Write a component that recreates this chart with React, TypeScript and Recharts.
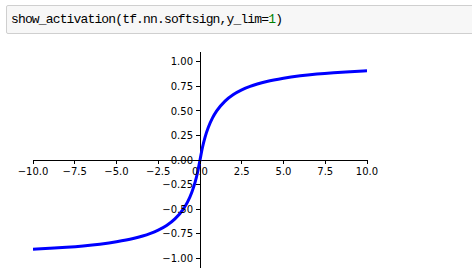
import { LineChart, Line, XAxis, YAxis, ReferenceLine } from 'recharts'

// softsign curve, values
const X_VALUES = [-10, -9, -8, -7, -6, -5, -4, -3, -2.5, -2, -1.5, -1, -0.75, -0.5, -0.3, -0.15, 0, 0.15, 0.3, 0.5, 0.75, 1, 1.5, 2, 2.5, 3, 4, 5, 6, 7, 8, 9, 10]
const Y_VALUES = [-0.909, -0.9, -0.889, -0.875, -0.857, -0.833, -0.8, -0.75, -0.714, -0.667, -0.6, -0.5, -0.429, -0.333, -0.231, -0.13, 0, 0.13, 0.231, 0.333, 0.429, 0.5, 0.6, 0.667, 0.714, 0.75, 0.8, 0.833, 0.857, 0.875, 0.889, 0.9, 0.909]

const X_TICKS = [-10, -7.5, -5, -2.5, 0, 2.5, 5, 7.5, 10]
const Y_TICKS = [-1, -0.75, -0.5, -0.25, 0, 0.25, 0.5, 0.75, 1]

const CODE_TEXT = 'show_activation(tf.nn.softsign,y_lim='
const CODE_ARG = '1'

const W = 472
const H = 272
const MARGIN = { top: 52, right: 105, bottom: 3, left: 32 }
const AXIS_SIZE = 1
const PLOT_W = W - MARGIN.left - AXIS_SIZE - MARGIN.right
const PLOT_H = H - MARGIN.top - MARGIN.bottom - AXIS_SIZE
// spines sit at the data origin (domain is symmetric)
const ZERO_X = MARGIN.left + AXIS_SIZE + PLOT_W / 2
const ZERO_Y = MARGIN.top + PLOT_H / 2

const fmt = (v: number, d: number) => v.toFixed(d).replace('-', '\u2212')

const tickFont = { fontFamily: 'DejaVu Sans', fontSize: 10, fill: '#000' }

function XTick({ x, payload }: any) {
  return (
    <g>
      <line x1={x} x2={x} y1={ZERO_Y} y2={ZERO_Y + 4} stroke="#000" strokeWidth={1} shapeRendering="crispEdges" />
      <text x={x} y={ZERO_Y + 15} textAnchor="middle" {...tickFont}>
        {fmt(payload.value, 1)}
      </text>
    </g>
  )
}

function YTick({ y, payload }: any) {
  return (
    <g>
      <line x1={ZERO_X - 4} x2={ZERO_X} y1={y} y2={y} stroke="#000" strokeWidth={1} shapeRendering="crispEdges" />
      <text x={ZERO_X - 7} y={y + 3.6} textAnchor="end" {...tickFont}>
        {fmt(payload.value, 2)}
      </text>
    </g>
  )
}

export default function App() {
  const data = X_VALUES.map((x, i) => ({ x, y: Y_VALUES[i] }))

  return (
    <div style={{ position: 'absolute', left: 0, top: 0, width: W, height: H, background: '#fff' }}>
      <div
        style={{
          position: 'absolute',
          left: 6,
          top: 5,
          width: 480,
          height: 29,
          border: '1px solid #cfcfcf',
          borderRadius: 2,
          background: '#f7f7f7',
          boxSizing: 'border-box',
        }}
      />
      <div
        style={{
          position: 'absolute',
          left: 11,
          top: 12,
          fontFamily: 'Liberation Mono, monospace',
          fontSize: 13,
          letterSpacing: -0.85,
          lineHeight: '16px',
          color: '#000',
          whiteSpace: 'pre',
        }}
      >
        {CODE_TEXT}
        <span style={{ color: '#008000' }}>{CODE_ARG}</span>)
      </div>
      <div style={{ position: 'absolute', left: 0, top: 0 }}>
        <LineChart width={W} height={H} data={data} margin={MARGIN}>
          <XAxis
            dataKey="x"
            type="number"
            domain={[-10, 10]}
            ticks={X_TICKS}
            interval={0}
            height={AXIS_SIZE}
            axisLine={false}
            tickLine={false}
            tick={(props: any) => <XTick {...props} />}
            allowDataOverflow
          />
          <YAxis
            type="number"
            domain={[-1.1, 1.1]}
            ticks={Y_TICKS}
            interval={0}
            width={AXIS_SIZE}
            axisLine={false}
            tickLine={false}
            tick={(props: any) => <YTick {...props} />}
            allowDataOverflow
          />
          <ReferenceLine y={0} stroke="#000" strokeWidth={1} shapeRendering="crispEdges" />
          <ReferenceLine x={0} stroke="#000" strokeWidth={1} shapeRendering="crispEdges" />
          <Line
            dataKey="y"
            type="monotone"
            stroke="#0000ff"
            strokeWidth={3}
            dot={false}
            isAnimationActive={false}
          />
        </LineChart>
      </div>
    </div>
  )
}
